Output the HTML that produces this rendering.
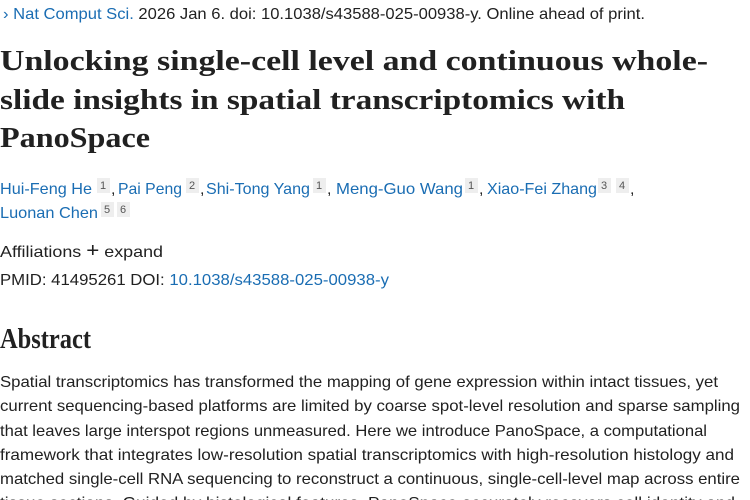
<!DOCTYPE html>
<html><head><meta charset="utf-8"><style>
html,body{margin:0;padding:0;background:#fff;width:750px;height:500px;overflow:hidden}
svg{display:block}
.s{font-family:"Liberation Sans",sans-serif;font-size:16px;fill:#212121}
.b{fill:#1a6db3}
.t{font-family:"Liberation Serif",serif;font-weight:bold;font-size:29px;fill:#212121}
.sup{font-family:"Liberation Sans",sans-serif;font-size:11px;fill:#555}
</style></head><body>
<svg width="750" height="500" xmlns="http://www.w3.org/2000/svg">
<text class="s" x="3" y="19" textLength="642" lengthAdjust="spacingAndGlyphs"><tspan class="b">› Nat Comput Sci.</tspan> 2026 Jan 6. doi: 10.1038/s43588-025-00938-y. Online ahead of print.</text>
<text class="t" x="0" y="70" textLength="708" lengthAdjust="spacingAndGlyphs">Unlocking single-cell level and continuous whole-</text>
<text class="t" x="0" y="109" textLength="625" lengthAdjust="spacingAndGlyphs">slide insights in spatial transcriptomics with</text>
<text class="t" x="0" y="147" textLength="150" lengthAdjust="spacingAndGlyphs">PanoSpace</text>
<g>
<rect x="97" y="178" width="13" height="15" fill="#eee"/>
<rect x="186" y="178" width="13" height="15" fill="#eee"/>
<rect x="313" y="178" width="13" height="15" fill="#eee"/>
<rect x="465" y="178" width="13" height="15" fill="#eee"/>
<rect x="598" y="178" width="13" height="15" fill="#eee"/>
<rect x="616" y="178" width="13" height="15" fill="#eee"/>
<rect x="101" y="202" width="13" height="15" fill="#eee"/>
<rect x="117" y="202" width="13" height="15" fill="#eee"/>
</g>
<text class="s" x="0" y="194"><tspan class="b" textLength="92" lengthAdjust="spacingAndGlyphs">Hui-Feng He</tspan></text>
<text class="sup" x="100" y="189">1</text><text class="s" x="111" y="194">,</text>
<text class="s b" x="118" y="194" textLength="64" lengthAdjust="spacingAndGlyphs">Pai Peng</text>
<text class="sup" x="189" y="189">2</text><text class="s" x="200" y="194">,</text>
<text class="s b" x="206" y="194" textLength="104" lengthAdjust="spacingAndGlyphs">Shi-Tong Yang</text>
<text class="sup" x="316" y="189">1</text><text class="s" x="327" y="194">,</text>
<text class="s b" x="336" y="194" textLength="127" lengthAdjust="spacingAndGlyphs">Meng-Guo Wang</text>
<text class="sup" x="468" y="189">1</text><text class="s" x="479" y="194">,</text>
<text class="s b" x="487" y="194" textLength="110" lengthAdjust="spacingAndGlyphs">Xiao-Fei Zhang</text>
<text class="sup" x="601" y="189">3</text><text class="sup" x="619" y="189">4</text><text class="s" x="630" y="194">,</text>
<text class="s b" x="0" y="218" textLength="98" lengthAdjust="spacingAndGlyphs">Luonan Chen</text>
<text class="sup" x="104" y="213">5</text><text class="sup" x="120" y="213">6</text>
<text class="s" x="0" y="257" textLength="163" lengthAdjust="spacingAndGlyphs">Affiliations  <tspan font-size="20">+</tspan> expand</text>
<text class="s" x="0" y="285" textLength="389" lengthAdjust="spacingAndGlyphs">PMID: 41495261   DOI: <tspan class="b">10.1038/s43588-025-00938-y</tspan></text>
<text class="t" x="0" y="348" font-weight="normal" font-size="25" textLength="91" lengthAdjust="spacingAndGlyphs">Abstract</text>
<text class="s" x="0" y="387" textLength="718" lengthAdjust="spacingAndGlyphs">Spatial transcriptomics has transformed the mapping of gene expression within intact tissues, yet</text>
<text class="s" x="0" y="411" textLength="740" lengthAdjust="spacingAndGlyphs">current sequencing-based platforms are limited by coarse spot-level resolution and sparse sampling</text>
<text class="s" x="0" y="436" textLength="707" lengthAdjust="spacingAndGlyphs">that leaves large interspot regions unmeasured. Here we introduce PanoSpace, a computational</text>
<text class="s" x="0" y="460" textLength="734" lengthAdjust="spacingAndGlyphs">framework that integrates low-resolution spatial transcriptomics with high-resolution histology and</text>
<text class="s" x="0" y="484" textLength="740" lengthAdjust="spacingAndGlyphs">matched single-cell RNA sequencing to reconstruct a continuous, single-cell-level map across entire</text>
<text class="s" x="0" y="508" textLength="735" lengthAdjust="spacingAndGlyphs">tissue sections. Guided by histological features, PanoSpace accurately recovers cell identity and</text>
</svg>
</body></html>
